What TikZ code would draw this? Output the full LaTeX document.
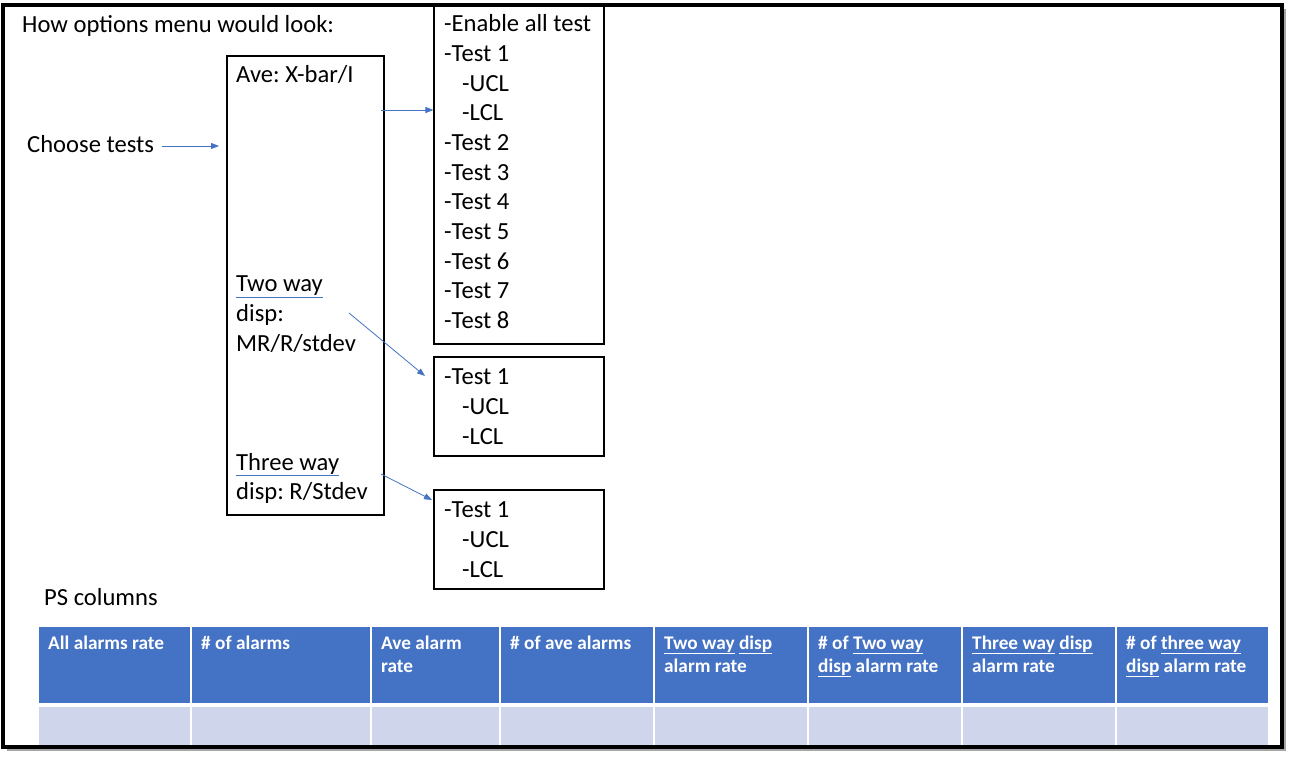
\documentclass[tikz,border=0pt]{standalone}
\usepackage{fontspec}
\setmainfont{Carlito}
\frenchspacing
\usetikzlibrary{arrows.meta,shadows}
\definecolor{hdrblue}{HTML}{4472C4}
\definecolor{rowblue}{HTML}{CFD5EA}
\definecolor{arrblue}{HTML}{4472C4}
\newcommand\bluline[1]{{\color{arrblue}\underline{\color{black}#1}}}
\begin{document}
\begin{tikzpicture}[x=1pt,y=-1pt,
  txt/.style={anchor=base west, inner sep=0pt, font=\fontsize{24.6}{29}\selectfont},
  hdrtxt/.style={anchor=base west, inner sep=0pt, text=white, font=\fontsize{19.3}{23}\selectfont\bfseries},
  menubox/.style={draw=black, line width=1.2pt, inner sep=0pt},
  hcell/.style={draw=white, line width=2pt, fill=hdrblue, inner sep=0pt, minimum height=78},
  bcell/.style={draw=white, line width=2pt, fill=rowblue, inner sep=0pt, minimum height=42},
  conn/.style={draw=arrblue, line width=0.8pt, -{Triangle[length=8pt,width=6pt]}}]
\useasboundingbox (0,0) rectangle (1293,759);
% frame background with shadow
\path[fill=white, drop shadow={shadow xshift=4pt, shadow yshift=-4pt, opacity=0.35, fill=black}] (2.5,5) rectangle (1282,747);

% title
\node[txt] (title) at (22,33) {How options menu would look:};

% left options box
\node[menubox, minimum width=157, minimum height=459] (opts) at (305.5,285.5) {};
\node[txt] (ave) at (236,83) {Ave: X-bar/I};
\node[txt] (two1) at (236,292) {\bluline{Two way}};
\node[txt] (two2) at (236,322) {disp:};
\node[txt] (two3) at (236,351) {MR/R/stdev};
\node[txt] (three1) at (236,470) {\bluline{Three way}};
\node[txt] (three2) at (236,499) {disp: R/Stdev};

% choose tests
\node[txt] (choose) at (27,153) {Choose tests};

% test box 1
\node[menubox, minimum width=170, minimum height=339] (t1) at (519,174.5) {};
\node[txt] (t1a) at (444,32) {-Enable all test};
\node[txt] (t1b) at (444,62) {-Test 1};
\node[txt] (t1c) at (462,91.5) {-UCL};
\node[txt] (t1d) at (462,121) {-LCL};
\node[txt] (t1e) at (444,151) {-Test 2};
\node[txt] (t1f) at (444,180.5) {-Test 3};
\node[txt] (t1g) at (444,210) {-Test 4};
\node[txt] (t1h) at (444,240) {-Test 5};
\node[txt] (t1i) at (444,269.5) {-Test 6};
\node[txt] (t1j) at (444,299) {-Test 7};
\node[txt] (t1k) at (444,329) {-Test 8};

% test box 2
\node[menubox, minimum width=170, minimum height=99] (t2) at (519,406.5) {};
\node[txt] (t2a) at (444,384) {-Test 1};
\node[txt] (t2b) at (462,414) {-UCL};
\node[txt] (t2c) at (462,444) {-LCL};

% test box 3
\node[menubox, minimum width=170, minimum height=99] (t3) at (519,539.5) {};
\node[txt] (t3a) at (444,517) {-Test 1};
\node[txt] (t3b) at (462,547) {-UCL};
\node[txt] (t3c) at (462,577) {-LCL};

% connectors
\coordinate (c0e) at (219,146);
\draw[conn] ([xshift=8pt]choose.east |- c0e) -- (c0e);
\coordinate (a1s) at (381,110);
\draw[conn] (a1s) -- (t1.west |- a1s);
\coordinate (a2s) at (349,313);
\coordinate (a2e) at (425,376);
\draw[conn] (a2s) -- (a2e);
\coordinate (a3s) at (381,474);
\coordinate (a3e) at (432,500);
\draw[conn] (a3s) -- (a3e);

% PS columns
\node[txt] (ps) at (44,605) {PS columns};

% table
\foreach \i/\a/\b in {1/38/191,2/191/371,3/371/500,4/500/654,5/654/808,6/808/962,7/962/1116,8/1116/1269}{
  \node[hcell, minimum width=\b-\a] (h\i) at ({(\a+\b)/2},665) {};
  \node[bcell, minimum width=\b-\a] (b\i) at ({(\a+\b)/2},727) {};
}
\node[hdrtxt] (h1a) at (48,649) {All alarms rate};
\node[hdrtxt] (h2a) at (201,649) {\# of alarms};
\node[hdrtxt] (h3a) at (381,649) {Ave alarm};
\node[hdrtxt] (h3b) at (381,672) {rate};
\node[hdrtxt] (h4a) at (510,649) {\# of ave alarms};
\node[hdrtxt] (h5a) at (664,649) {\underline{Two way} \underline{disp}};
\node[hdrtxt] (h5b) at (664,672) {alarm rate};
\node[hdrtxt] (h6a) at (818,649) {\# of \underline{Two way}};
\node[hdrtxt] (h6b) at (818,672) {\underline{disp} alarm rate};
\node[hdrtxt] (h7a) at (972,649) {\underline{Three way} \underline{disp}};
\node[hdrtxt] (h7b) at (972,672) {alarm rate};
\node[hdrtxt] (h8a) at (1126,649) {\# of \underline{three way}};
\node[hdrtxt] (h8b) at (1126,672) {\underline{disp} alarm rate};

% frame border on top
\draw[line width=4pt] (2.5,5) rectangle (1282,747);
\end{tikzpicture}
\end{document}
